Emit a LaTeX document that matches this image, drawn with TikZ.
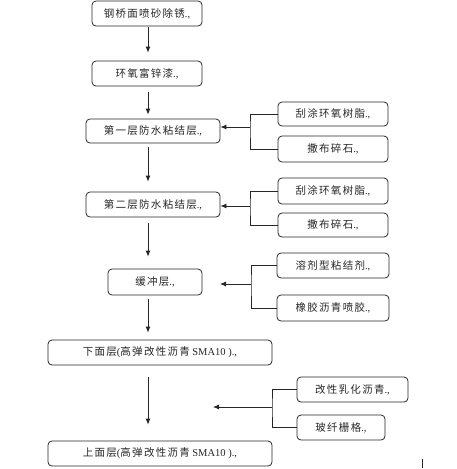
\documentclass[tikz,border=0pt]{standalone}
\usepackage{fontspec}
\setmainfont{Liberation Serif}
\newfontfamily\cjk{Noto Sans CJK SC}[LetterSpace=12]
\usetikzlibrary{arrows.meta}

\begin{document}
\begin{tikzpicture}[
  x=1pt, y=-1pt,
  every node/.style={font=\fontsize{10.5}{12}\selectfont, text=black!85},
  stage/.style={draw=black!85, line width=0.8pt, rounded corners=4pt,
                minimum height=25pt, inner sep=0pt, align=center},
  extra/.style={stage, minimum width=110pt},
  link/.style={line width=0.8pt, black!85},
  >={Latex[length=6pt,width=5pt]}
]
\useasboundingbox (0,0) rectangle (457,469);

% main steps
\node[stage, minimum width=110pt] (s1) at (147,13.5) {{\cjk 钢桥面喷砂除锈}.,};
\node[stage, minimum width=110pt] (s2) at (147,73.5) {{\cjk 环氧富锌漆}.,};
\node[stage, minimum width=134pt, minimum height=24pt] (s3) at (153,131) {{\cjk 第一层防水粘结层}.,};
\node[stage, minimum width=134pt] (s4) at (153,204.5) {{\cjk 第二层防水粘结层}.,};
\node[stage, minimum width=94pt, minimum height=26pt] (s5) at (155,282) {{\cjk 缓冲层}.,};
\node[stage, minimum width=224pt] (s6) at (160,352.5) {{\cjk 下面层}({\cjk 高弹改性沥青} SMA10 ).,};
\node[stage, minimum width=224pt] (s7) at (160,453.5) {{\cjk 上面层}({\cjk 高弹改性沥青} SMA10 ).,};

% side materials
\node[extra, minimum height=24pt] (a1) at (333,114) {{\cjk 刮涂环氧树脂}.,};
\node[extra, minimum height=26pt] (a2) at (333,149) {{\cjk 撒布碎石}.,};
\node[extra, minimum height=26pt] (b1) at (333,191) {{\cjk 刮涂环氧树脂}.,};
\node[extra, minimum height=24pt] (b2) at (333,225) {{\cjk 撒布碎石}.,};
\node[extra, minimum width=112pt] (c1) at (333,265.5) {{\cjk 溶剂型粘结剂}.,};
\node[extra, minimum width=112pt, minimum height=26pt] (c2) at (333,308) {{\cjk 橡胶沥青喷胶}.,};
\node[extra, minimum width=111pt] (d1) at (352.5,389.5) {{\cjk 改性乳化沥青}.,};
\node[extra, minimum width=88pt] (d2) at (341,427.5) {{\cjk 玻纤栅格}.,};

\coordinate (spine) at (148,0);
\coordinate (ja) at (250,127);
\coordinate (jb) at (250,206);
\coordinate (jc) at (251,284);
\coordinate (jd) at (272,407);
\coordinate (tc) at (220,284);
\coordinate (td) at (213,407);

% flow down
\foreach \a/\b/\s/\e in {s1/s2/1/8, s2/s3/6/4, s3/s4/4/10, s4/s5/6/12, s5/s6/4/7, s6/s7/12/16}
  \draw[link, ->, shorten <=\s pt, shorten >=\e pt] (\a.south -| spine) -- (\b.north -| spine);

% brackets
\draw[link] (a1.west) -| (ja) |- (a2.west);
\draw[link, ->] (ja) -- (s3.east |- ja);
\draw[link] (b1.west) -| (jb) |- (b2.west);
\draw[link, ->] (jb) -- (s4.east |- jb);
\draw[link] (c1.west) -| (jc) |- (c2.west);
\draw[link, ->] (jc) -- (tc);
\draw[link] (d1.west) -| (jd) |- (d2.west);
\draw[link, ->] (jd) -- (td);

\draw[link] (422,459) -- (422,468);

\end{tikzpicture}
\end{document}
